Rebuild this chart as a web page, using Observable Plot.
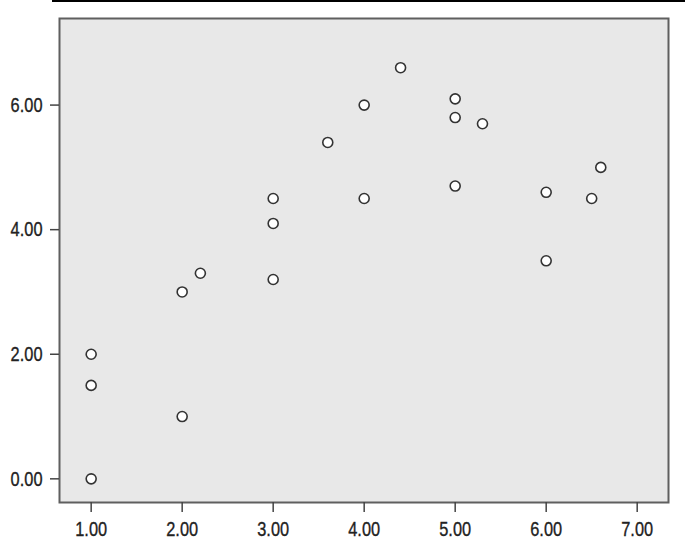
<!DOCTYPE html>
<html>
<head>
<meta charset="utf-8">
<script src="https://cdn.jsdelivr.net/npm/d3@7"></script>
<script src="https://cdn.jsdelivr.net/npm/@observablehq/plot@0.6"></script>
<style>
  html, body { margin: 0; padding: 0; background: #fff; }
  #wrap { position: relative; width: 685px; height: 541px; }
  #topline { position: absolute; left: 52px; right: 0; top: 0; height: 2px; background: #000; }
  svg g[aria-label$="tick label"] text { stroke: #222; stroke-width: 0.35px; }
</style>
</head>
<body>
<div id="wrap"><div id="topline"></div></div>
<script>
const xValues = [1, 1, 1, 2, 2, 2.2, 3, 3, 3, 3.6, 4, 4, 4.4, 5, 5, 5, 5.3, 6, 6, 6.5, 6.6];
const yValues = [2, 1.5, 0, 3, 1, 3.3, 4.5, 4.1, 3.2, 5.4, 6, 4.5, 6.6, 6.1, 5.8, 4.7, 5.7, 4.6, 3.5, 4.5, 5];
const xTicks = [1, 2, 3, 4, 5, 6, 7];
const yTicks = [0, 2, 4, 6];

const data = xValues.map((x, i) => ({x, y: yValues[i]}));

const chart = Plot.plot({
  width: 685,
  height: 541,
  marginLeft: 59,
  marginRight: 17,
  marginTop: 18,
  marginBottom: 39,
  style: {
    fontFamily: "'Liberation Sans Narrow', 'Liberation Sans', sans-serif",
    fontSize: "21px",
    color: "#222",
    background: "transparent"
  },
  x: {domain: [0.652, 7.344], label: null},
  y: {domain: [-0.38, 7.39], label: null},
  marks: [
    Plot.frame({fill: "#e8e8e8"}),
    Plot.frame({stroke: "#5f5f5f", strokeWidth: 2}),
    Plot.axisX(xTicks, {tickSize: 10, tickPadding: 9, tickFormat: d3.format(".2f"), stroke: "#444", strokeWidth: 1.5, fill: "#222"}),
    Plot.axisY(yTicks, {tickSize: 9, tickPadding: 8, tickFormat: d3.format(".2f"), stroke: "#444", strokeWidth: 1.5, fill: "#222"}),
    Plot.dot(data, {x: "x", y: "y", r: 5, fill: "white", stroke: "#333", strokeWidth: 1.6})
  ]
});
document.getElementById("wrap").appendChild(chart);

// condense tick labels horizontally (narrow face look), scaling about each label's anchor
const SX = 0.78;
const NS = "http://www.w3.org/2000/svg";
chart.querySelectorAll('g[aria-label$="tick label"]').forEach(grp => {
  const isY = grp.getAttribute("aria-label").startsWith("y");
  Array.from(grp.querySelectorAll("text")).forEach(t => {
    const w = document.createElementNS(NS, "g");
    t.parentNode.insertBefore(w, t);
    w.appendChild(t);
    const bb = w.getBBox();
    const ax = isY ? bb.x + bb.width : bb.x + bb.width / 2;
    const ay = bb.y + bb.height / 2;
    w.setAttribute("transform", `translate(${ax},${ay}) scale(${SX},1) translate(${-ax},${-ay})`);
  });
});
</script>
</body>
</html>
